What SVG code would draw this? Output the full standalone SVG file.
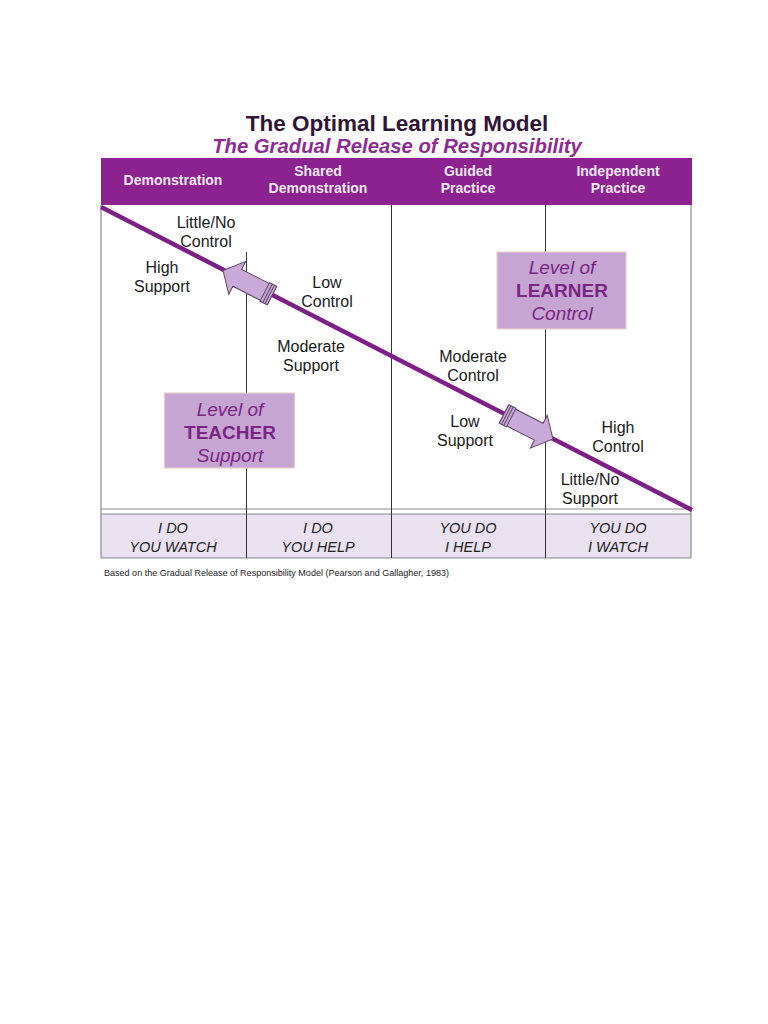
<svg xmlns="http://www.w3.org/2000/svg" width="768" height="1024" viewBox="0 0 768 1024">
<defs>
<style>
.t{font-family:"Liberation Sans",Arial,sans-serif}
.hd{font-family:"Liberation Sans",Arial,sans-serif;font-weight:bold;font-size:14px;fill:#F1E6F2;text-anchor:middle}
.lb{font-family:"Liberation Sans",Arial,sans-serif;font-size:16px;fill:#1a1a1a;text-anchor:middle}
.bx{fill:#C6A5D2;stroke:#E3CFC9;stroke-width:1.2}
.bi{font-family:"Liberation Sans",Arial,sans-serif;font-style:italic;font-size:19px;fill:#7A2584;text-anchor:middle}
.bb{font-family:"Liberation Sans",Arial,sans-serif;font-weight:bold;font-size:19px;fill:#7A2584;text-anchor:middle}
.ft{font-family:"Liberation Sans",Arial,sans-serif;font-style:italic;font-size:14.5px;fill:#222;text-anchor:middle}
.dv{stroke:#333;stroke-width:1}
.bd{stroke:#8a8a8a;stroke-width:1.2;fill:none}
.arr{fill:#C8A9D7;stroke:#5E4566;stroke-width:1}
.strp{stroke:#5E4566;stroke-width:1}
</style>
<g id="blockArrow">
<path class="arr" d="M0,0 L-16,-18.5 L-16,-9.5 L-55,-9.5 L-55,9.5 L-16,9.5 L-16,18.5 Z"/>
<rect class="arr" x="-55" y="-10.5" width="8" height="21"/>
<line class="strp" x1="-52.5" y1="-10.5" x2="-52.5" y2="10.5"/>
<line class="strp" x1="-50" y1="-10.5" x2="-50" y2="10.5"/>
</g>
</defs>
<rect width="768" height="1024" fill="#fff"/>

<g id="title">
<text class="t" x="397" y="131" text-anchor="middle" font-weight="bold" font-size="22.5" fill="#2F1536">The Optimal Learning Model</text>
<text class="t" x="397" y="153" text-anchor="middle" font-weight="bold" font-style="italic" font-size="20.3" fill="#8E2A93">The Gradual Release of Responsibility</text>
</g>

<g id="table">
<rect x="101" y="158" width="591" height="47" fill="#8B2290"/>
<rect x="101" y="514" width="590" height="44" fill="#E9E1EF"/>
<line class="bd" x1="101" y1="205" x2="101" y2="558"/>
<line class="bd" x1="691" y1="205" x2="691" y2="558"/>
<line class="bd" x1="101" y1="558" x2="691" y2="558"/>
<line class="bd" x1="101" y1="509" x2="691" y2="509"/>
<line class="bd" x1="101" y1="514" x2="691" y2="514"/>
<line class="dv" x1="246.5" y1="252" x2="246.5" y2="558"/>
<line class="dv" x1="391.5" y1="205" x2="391.5" y2="558"/>
<line class="dv" x1="545.5" y1="205" x2="545.5" y2="558"/>
</g>

<g id="h-demonstration"><text class="hd" x="173" y="185">Demonstration</text></g>
<g id="h-shared"><text class="hd" x="318" y="176">Shared</text><text class="hd" x="318" y="193">Demonstration</text></g>
<g id="h-guided"><text class="hd" x="468" y="176">Guided</text><text class="hd" x="468" y="193">Practice</text></g>
<g id="h-independent"><text class="hd" x="618" y="176">Independent</text><text class="hd" x="618" y="193">Practice</text></g>

<g id="connectors">
<line x1="101" y1="207" x2="692" y2="510" stroke="#7D1F87" stroke-width="4.5" stroke-linecap="butt"/>
<use href="#blockArrow" transform="translate(223,270.5) rotate(207.16)"/>
<use href="#blockArrow" transform="translate(553,439) rotate(27.16)"/>
</g>

<g id="l-littleno-control"><text class="lb" x="206" y="228">Little/No</text><text class="lb" x="206" y="247">Control</text></g>
<g id="l-high-support"><text class="lb" x="162" y="273">High</text><text class="lb" x="162" y="292">Support</text></g>
<g id="l-low-control"><text class="lb" x="327" y="288">Low</text><text class="lb" x="327" y="307">Control</text></g>
<g id="l-moderate-support"><text class="lb" x="311" y="352">Moderate</text><text class="lb" x="311" y="371">Support</text></g>
<g id="l-moderate-control"><text class="lb" x="473" y="362">Moderate</text><text class="lb" x="473" y="381">Control</text></g>
<g id="l-low-support"><text class="lb" x="465" y="427">Low</text><text class="lb" x="465" y="446">Support</text></g>
<g id="l-high-control"><text class="lb" x="618" y="433">High</text><text class="lb" x="618" y="452">Control</text></g>
<g id="l-littleno-support"><text class="lb" x="590" y="485">Little/No</text><text class="lb" x="590" y="504">Support</text></g>

<g id="box-learner">
<rect class="bx" x="497" y="252" width="129" height="77"/>
<text class="bi" x="562" y="274">Level of</text>
<text class="bb" x="562" y="297">LEARNER</text>
<text class="bi" x="562" y="320">Control</text>
</g>
<g id="box-teacher">
<rect class="bx" x="164.5" y="393" width="130" height="75"/>
<text class="bi" x="230" y="416">Level of</text>
<text class="bb" x="230" y="439">TEACHER</text>
<text class="bi" x="230" y="462">Support</text>
</g>

<g id="f-1"><text class="ft" x="173" y="533">I DO</text><text class="ft" x="173" y="552">YOU WATCH</text></g>
<g id="f-2"><text class="ft" x="318" y="533">I DO</text><text class="ft" x="318" y="552">YOU HELP</text></g>
<g id="f-3"><text class="ft" x="468" y="533">YOU DO</text><text class="ft" x="468" y="552">I HELP</text></g>
<g id="f-4"><text class="ft" x="618" y="533">YOU DO</text><text class="ft" x="618" y="552">I WATCH</text></g>

<g id="caption"><text class="t" x="104" y="576" font-size="9.3" fill="#222" textLength="345" lengthAdjust="spacingAndGlyphs">Based on the Gradual Release of Responsibility Model (Pearson and Gallagher, 1983)</text></g>
</svg>
